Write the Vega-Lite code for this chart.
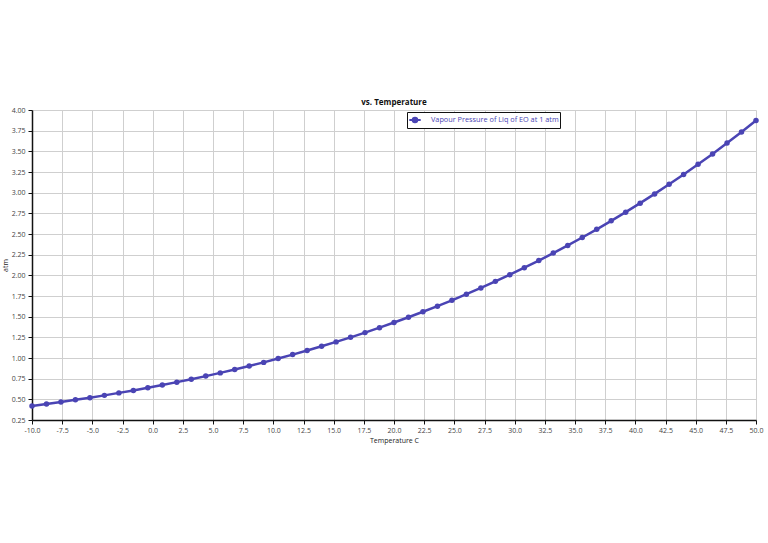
{
  "$schema": "https://vega.github.io/schema/vega-lite/v6.json",
  "autosize": {"type": "none"},
  "width": 724,
  "height": 310,
  "padding": {"left": 32, "top": 110, "right": 12, "bottom": 123},
  "background": "white",
  "title": {"text": "vs. Temperature", "fontSize": 8, "fontWeight": "bold", "font": "Open Sans", "color": "#111111", "anchor": "middle", "offset": -1},
  "data": {"values": [
    {"t": -10.0, "p": 0.420, "s": "Vapour Pressure of Liq of EO at 1 atm"},
    {"t": -8.8, "p": 0.443, "s": "Vapour Pressure of Liq of EO at 1 atm"},
    {"t": -7.6, "p": 0.468, "s": "Vapour Pressure of Liq of EO at 1 atm"},
    {"t": -6.4, "p": 0.494, "s": "Vapour Pressure of Liq of EO at 1 atm"},
    {"t": -5.2, "p": 0.520, "s": "Vapour Pressure of Liq of EO at 1 atm"},
    {"t": -4.0, "p": 0.548, "s": "Vapour Pressure of Liq of EO at 1 atm"},
    {"t": -2.8, "p": 0.578, "s": "Vapour Pressure of Liq of EO at 1 atm"},
    {"t": -1.6, "p": 0.608, "s": "Vapour Pressure of Liq of EO at 1 atm"},
    {"t": -0.4, "p": 0.640, "s": "Vapour Pressure of Liq of EO at 1 atm"},
    {"t": 0.8, "p": 0.673, "s": "Vapour Pressure of Liq of EO at 1 atm"},
    {"t": 2.0, "p": 0.708, "s": "Vapour Pressure of Liq of EO at 1 atm"},
    {"t": 3.2, "p": 0.744, "s": "Vapour Pressure of Liq of EO at 1 atm"},
    {"t": 4.4, "p": 0.781, "s": "Vapour Pressure of Liq of EO at 1 atm"},
    {"t": 5.6, "p": 0.820, "s": "Vapour Pressure of Liq of EO at 1 atm"},
    {"t": 6.8, "p": 0.861, "s": "Vapour Pressure of Liq of EO at 1 atm"},
    {"t": 8.0, "p": 0.903, "s": "Vapour Pressure of Liq of EO at 1 atm"},
    {"t": 9.2, "p": 0.947, "s": "Vapour Pressure of Liq of EO at 1 atm"},
    {"t": 10.4, "p": 0.993, "s": "Vapour Pressure of Liq of EO at 1 atm"},
    {"t": 11.6, "p": 1.041, "s": "Vapour Pressure of Liq of EO at 1 atm"},
    {"t": 12.8, "p": 1.090, "s": "Vapour Pressure of Liq of EO at 1 atm"},
    {"t": 14.0, "p": 1.142, "s": "Vapour Pressure of Liq of EO at 1 atm"},
    {"t": 15.2, "p": 1.195, "s": "Vapour Pressure of Liq of EO at 1 atm"},
    {"t": 16.4, "p": 1.250, "s": "Vapour Pressure of Liq of EO at 1 atm"},
    {"t": 17.6, "p": 1.307, "s": "Vapour Pressure of Liq of EO at 1 atm"},
    {"t": 18.8, "p": 1.367, "s": "Vapour Pressure of Liq of EO at 1 atm"},
    {"t": 20.0, "p": 1.429, "s": "Vapour Pressure of Liq of EO at 1 atm"},
    {"t": 21.2, "p": 1.493, "s": "Vapour Pressure of Liq of EO at 1 atm"},
    {"t": 22.4, "p": 1.559, "s": "Vapour Pressure of Liq of EO at 1 atm"},
    {"t": 23.6, "p": 1.627, "s": "Vapour Pressure of Liq of EO at 1 atm"},
    {"t": 24.8, "p": 1.698, "s": "Vapour Pressure of Liq of EO at 1 atm"},
    {"t": 26.0, "p": 1.772, "s": "Vapour Pressure of Liq of EO at 1 atm"},
    {"t": 27.2, "p": 1.848, "s": "Vapour Pressure of Liq of EO at 1 atm"},
    {"t": 28.4, "p": 1.927, "s": "Vapour Pressure of Liq of EO at 1 atm"},
    {"t": 29.6, "p": 2.008, "s": "Vapour Pressure of Liq of EO at 1 atm"},
    {"t": 30.8, "p": 2.092, "s": "Vapour Pressure of Liq of EO at 1 atm"},
    {"t": 32.0, "p": 2.179, "s": "Vapour Pressure of Liq of EO at 1 atm"},
    {"t": 33.2, "p": 2.269, "s": "Vapour Pressure of Liq of EO at 1 atm"},
    {"t": 34.4, "p": 2.362, "s": "Vapour Pressure of Liq of EO at 1 atm"},
    {"t": 35.6, "p": 2.458, "s": "Vapour Pressure of Liq of EO at 1 atm"},
    {"t": 36.8, "p": 2.557, "s": "Vapour Pressure of Liq of EO at 1 atm"},
    {"t": 38.0, "p": 2.659, "s": "Vapour Pressure of Liq of EO at 1 atm"},
    {"t": 39.2, "p": 2.764, "s": "Vapour Pressure of Liq of EO at 1 atm"},
    {"t": 40.4, "p": 2.873, "s": "Vapour Pressure of Liq of EO at 1 atm"},
    {"t": 41.6, "p": 2.985, "s": "Vapour Pressure of Liq of EO at 1 atm"},
    {"t": 42.8, "p": 3.101, "s": "Vapour Pressure of Liq of EO at 1 atm"},
    {"t": 44.0, "p": 3.220, "s": "Vapour Pressure of Liq of EO at 1 atm"},
    {"t": 45.2, "p": 3.343, "s": "Vapour Pressure of Liq of EO at 1 atm"},
    {"t": 46.4, "p": 3.469, "s": "Vapour Pressure of Liq of EO at 1 atm"},
    {"t": 47.6, "p": 3.600, "s": "Vapour Pressure of Liq of EO at 1 atm"},
    {"t": 48.8, "p": 3.734, "s": "Vapour Pressure of Liq of EO at 1 atm"},
    {"t": 50.0, "p": 3.872, "s": "Vapour Pressure of Liq of EO at 1 atm"}
  ]},
  "config": {
    "view": {"stroke": null},
    "font": "Open Sans",
    "axis": {
      "labelFont": "Open Sans", "labelFontSize": 7, "labelColor": "#444444",
      "titleFont": "Open Sans", "titleFontSize": 7, "titleFontWeight": "normal", "titleColor": "#222222",
      "domainColor": "#111111", "domainWidth": 1.5,
      "tickColor": "#111111", "tickSize": 4, "tickWidth": 1,
      "gridColor": "#cfcfcf", "gridWidth": 1
    }
  },
  "encoding": {
    "x": {
      "field": "t", "type": "quantitative",
      "scale": {"domain": [-10, 50], "nice": false, "zero": false},
      "axis": {"title": "Temperature C", "values": [-10, -7.5, -5, -2.5, 0, 2.5, 5, 7.5, 10, 12.5, 15, 17.5, 20, 22.5, 25, 27.5, 30, 32.5, 35, 37.5, 40, 42.5, 45, 47.5, 50], "labelExpr": "replace(format(datum.value, '.1f'), '\u2212', '-')", "labelFlush": false, "labelPadding": 2, "titlePadding": 3, "tickDirection": "up"}
    },
    "y": {
      "field": "p", "type": "quantitative",
      "scale": {"domain": [0.25, 4.0], "nice": false, "zero": false},
      "axis": {"title": "atm", "values": [0.25, 0.5, 0.75, 1, 1.25, 1.5, 1.75, 2, 2.25, 2.5, 2.75, 3, 3.25, 3.5, 3.75, 4], "format": ".2f", "labelFlush": false, "labelPadding": 3, "titlePadding": 3}
    },
    "color": {
      "field": "s", "type": "nominal",
      "scale": {"range": ["#4a44b4"]},
      "legend": {
        "title": null, "orient": "none", "legendX": 375, "legendY": 2,
        "direction": "horizontal",
        "strokeColor": "#111111", "fillColor": "white", "padding": 1,
        "labelFont": "Open Sans", "labelFontSize": 7.3, "labelColor": "#4a44b4",
        "symbolType": "M -1 0 L 1 0 M -0.4 0 A 0.4 0.4 0 1 1 0.4 0 A 0.4 0.4 0 1 1 -0.4 0 Z",
        "symbolSize": 130, "symbolStrokeWidth": 2, "symbolFillColor": "#4a44b4", "symbolStrokeColor": "#4a44b4",
        "labelOffset": 9, "rowPadding": 0
      }
    }
  },
  "layer": [
    {"mark": {"type": "line", "strokeWidth": 2.5}},
    {"mark": {"type": "point", "filled": true, "size": 30, "opacity": 1}}
  ]
}
